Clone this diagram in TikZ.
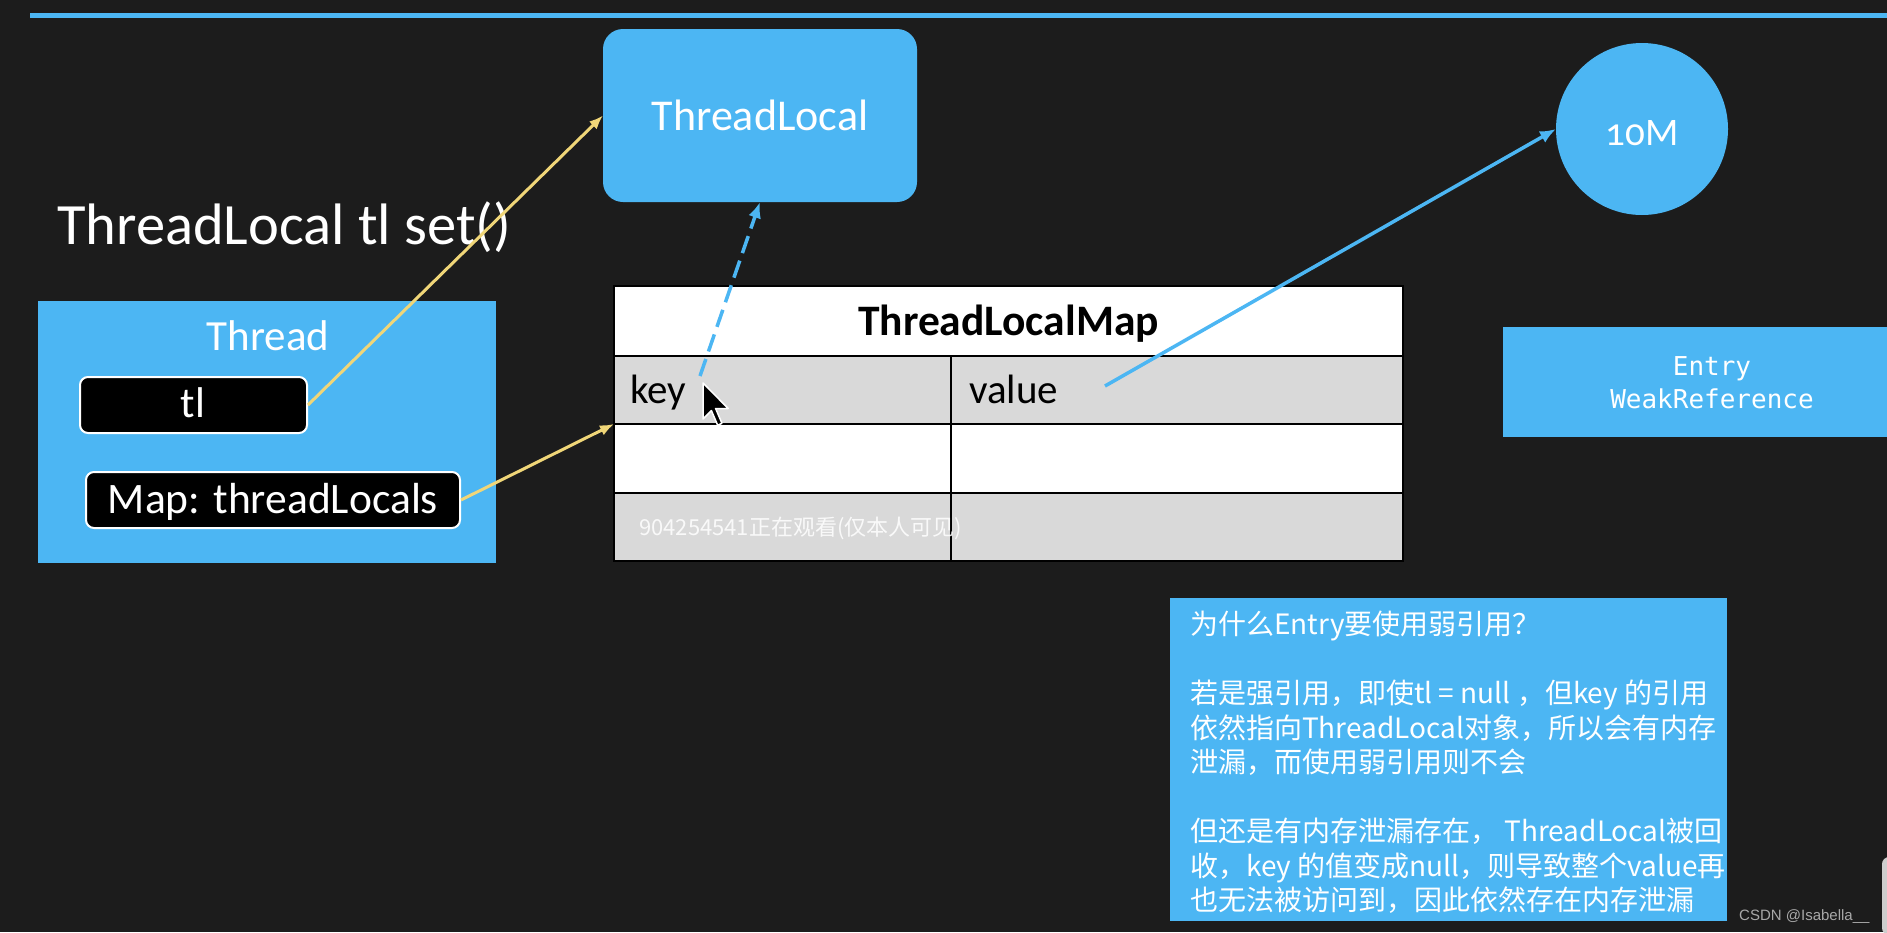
\documentclass[tikz,border=0pt]{standalone}
\usepackage{fontspec}
\setmainfont{Carlito}
\newfontfamily\cjk{Noto Sans CJK SC}
\newfontfamily\monof{DejaVu Sans Mono}
\newfontfamily\arialf{Liberation Sans}
\usetikzlibrary{arrows.meta}
\definecolor{tlblue}{RGB}{76,182,243}
\definecolor{bgc}{RGB}{28,28,28}
\definecolor{ylw}{RGB}{240,214,120}
\definecolor{cellgray}{RGB}{217,217,217}
\definecolor{wmgray}{RGB}{168,168,168}
\definecolor{barc}{RGB}{205,205,205}
\newcommand{\fsz}[1]{\fontsize{#1}{#1}\selectfont}
\begin{document}
\begin{tikzpicture}[x=1pt,y=-1pt,
  bluebox/.style={fill=tlblue, draw=none, inner sep=0, outer sep=0},
  blackbox/.style={fill=black, draw=white, line width=2pt, rounded corners=8pt, inner sep=0},
  cell/.style={draw=black, line width=2pt, inner sep=0, outer sep=0},
  wtext/.style={text=white, inner sep=0},
  btext/.style={text=black, inner sep=0},
  yarrow/.style={draw=ylw, line width=3pt, -{Latex[length=14pt,width=11pt]}},
  barrow/.style={draw=tlblue, line width=3.5pt, -{Latex[length=16pt,width=13pt]}},
]
\fill[bgc] (0,0) rectangle (1887,932);
\useasboundingbox (0,0) rectangle (1887,932);
\draw[tlblue, line width=5pt] (30,15) -- (1887,15);

% ThreadLocal object
\node[bluebox, rounded corners=20pt, minimum width=314pt, minimum height=173pt] (tlobj) at (760,115.5) {};
\node[wtext, anchor=base, font=\fsz{44}] (tlobjt) at (760,130) {ThreadLocal};

% 10M circle
\node[bluebox, circle, minimum size=172pt] (mem) at (1642,129) {};
\node[wtext, anchor=base, font={\fsz{39}\addfontfeature{Numbers=OldStyle}}] (memt) at (1642,145) {10M};

% Entry box
\node[bluebox, minimum width=420pt, minimum height=110pt] (entry) at (1713,382) {};
\node[wtext, anchor=base, font={\monof\fsz{26}}] (entry1) at (1712,375) {Entry};
\node[wtext, anchor=base, font={\monof\fsz{26}}] (entry2) at (1712,408) {WeakReference};

% title
\node[wtext, anchor=base west, font=\fsz{58.5}] (title) at (57,244) {ThreadLocal tl set()};

% Thread box
\node[bluebox, minimum width=458pt, minimum height=262pt] (thread) at (267,432) {};
\node[wtext, anchor=base, font=\fsz{43}] (threadt) at (268,350) {Thread};
\node[blackbox, minimum width=227pt, minimum height=56pt] (tl) at (193.5,405) {};
\node[wtext, anchor=base, font=\fsz{43}] (tlt) at (193,417) {tl};
\node[blackbox, minimum width=374pt, minimum height=56pt] (map) at (273,500) {};
\node[wtext, anchor=base, font=\fsz{43.5}] (mapt) at (273,513) {Map: threadLocals};

% ThreadLocalMap table
\node[cell, fill=white, minimum width=789pt, minimum height=70pt] (hdr) at (1008.5,321) {};
\node[btext, anchor=base, font={\bfseries\fsz{43.5}}] (hdrt) at (1008.5,335) {ThreadLocalMap};
\node[cell, fill=cellgray, minimum width=337pt, minimum height=68pt] (k1) at (782.5,390) {};
\node[cell, fill=cellgray, minimum width=452pt, minimum height=68pt] (v1) at (1177,390) {};
\node[cell, fill=white, minimum width=337pt, minimum height=69pt] (k2) at (782.5,458.5) {};
\node[cell, fill=white, minimum width=452pt, minimum height=69pt] (v2) at (1177,458.5) {};
\node[cell, fill=cellgray, minimum width=337pt, minimum height=68pt] (k3) at (782.5,527) {};
\node[cell, fill=cellgray, minimum width=452pt, minimum height=68pt] (v3) at (1177,527) {};
\node[btext, anchor=base west, font=\fsz{41}] (keyt) at (630,403) {key};
\node[btext, anchor=base west, font=\fsz{41}] (valt) at (969,403) {value};
\node[anchor=west, inner sep=0, text=white, opacity=0.85, font={\cjk\fsz{22}}] (wm) at (639,528) {904254541正在观看(仅本人可见)};

% connectors
\coordinate (keyp) at (700,376);
\coordinate (valp) at (1105,386);
\draw[barrow, dash pattern=on 18pt off 8pt] (keyp) -- (tlobj.south);
\draw[barrow] (valp) -- (mem.west);
\draw[yarrow] (tl.east) -- (tlobj.west);
\draw[yarrow] (map.east) -- (k2.north west);

% mouse cursor
\draw[fill=black, draw=white, line width=1.5pt, line join=round] (703,383) -- ++(0,36) -- ++(8.4,-8.4) -- ++(6.3,14.7) -- ++(4.2,-2.1) -- ++(-6.3,-14.7) -- ++(12.6,0) -- cycle;

% explanation box
\node[bluebox, minimum width=557pt, minimum height=323pt] (why) at (1448.5,759.5) {};
\node[anchor=north west, inner sep=0, text=white, align=left, font={\cjk\fontsize{28}{34.5}\selectfont}] (whyt) at (1190,611) {为什么Entry要使用弱引用？\\[34.5pt]若是强引用，即使tl = null ，但key 的引用\\依然指向ThreadLocal对象，所以会有内存\\泄漏，而使用弱引用则不会\\[34.5pt]但还是有内存泄漏存在， ThreadLocal被回\\收，key 的值变成null，则导致整个value再\\也无法被访问到，因此依然存在内存泄漏};

% watermark and edge artefact
\node[anchor=base west, inner sep=0, text=wmgray, font={\arialf\fsz{15}}] (csdn) at (1739,920) {CSDN @Isabella\_\_};
\fill[barc, rounded corners=7pt] (1882,857) rectangle (1900,935);
\end{tikzpicture}
\end{document}
